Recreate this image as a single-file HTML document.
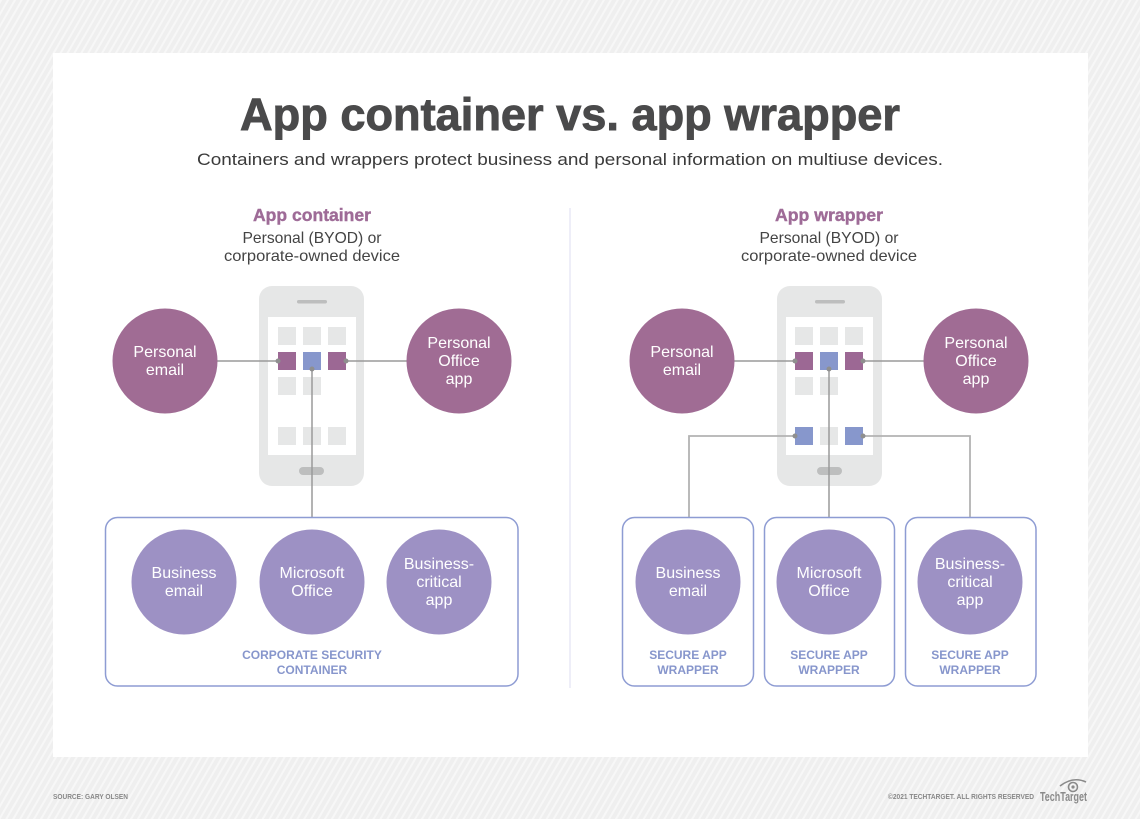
<!DOCTYPE html>
<html><head><meta charset="utf-8">
<style>
html,body{margin:0;padding:0;background:#f0f0f0;}
svg{display:block;}
text{font-family:"Liberation Sans",Arial,sans-serif;}
</style></head>
<body>
<svg width="1140" height="819" viewBox="0 0 1140 819" xmlns="http://www.w3.org/2000/svg">
<defs>
<pattern id="bg" width="6" height="6" patternUnits="userSpaceOnUse" patternTransform="rotate(30)">
<rect width="6" height="6" fill="#efefef"/>
<line x1="1" y1="0" x2="1" y2="6" stroke="#f7f7f7" stroke-width="2"/>
</pattern>
</defs>
<rect width="1140" height="819" fill="url(#bg)"/>
<rect x="53" y="53" width="1035" height="704" fill="#ffffff"/>

<!-- Title -->
<text x="570" y="130" text-anchor="middle" font-size="45" font-weight="bold" fill="#4a4a4b" stroke="#4a4a4b" stroke-width="0.9" textLength="660" lengthAdjust="spacingAndGlyphs">App container vs. app wrapper</text>
<text x="570" y="165" text-anchor="middle" font-size="17" fill="#3a3a3a" textLength="746" lengthAdjust="spacingAndGlyphs">Containers and wrappers protect business and personal information on multiuse devices.</text>

<!-- divider -->
<line x1="570" y1="208" x2="570" y2="688" stroke="#e2e2f2" stroke-width="1.2"/>

<!-- LEFT headings -->
<text x="312" y="221" text-anchor="middle" font-size="17.5" font-weight="bold" fill="#9e6b97" stroke="#9e6b97" stroke-width="0.4" textLength="118" lengthAdjust="spacingAndGlyphs">App container</text>
<text x="312" y="243" text-anchor="middle" font-size="16" fill="#444" textLength="139" lengthAdjust="spacingAndGlyphs">Personal (BYOD) or</text>
<text x="312" y="261" text-anchor="middle" font-size="16" fill="#444" textLength="176" lengthAdjust="spacingAndGlyphs">corporate-owned device</text>

<!-- RIGHT headings -->
<text x="829" y="221" text-anchor="middle" font-size="17.5" font-weight="bold" fill="#9e6b97" stroke="#9e6b97" stroke-width="0.4" textLength="108" lengthAdjust="spacingAndGlyphs">App wrapper</text>
<text x="829" y="243" text-anchor="middle" font-size="16" fill="#444" textLength="139" lengthAdjust="spacingAndGlyphs">Personal (BYOD) or</text>
<text x="829" y="261" text-anchor="middle" font-size="16" fill="#444" textLength="176" lengthAdjust="spacingAndGlyphs">corporate-owned device</text>

<!-- LEFT phone -->
<rect x="259" y="286" width="105" height="200" rx="13" fill="#e6e7e7"/>
<rect x="297" y="300" width="30" height="3.5" rx="1.7" fill="#bdbebe"/>
<rect x="268" y="317" width="88" height="138" fill="#ffffff"/>
<g fill="#e6e7e7">
<rect x="278" y="327" width="18" height="18"/><rect x="303" y="327" width="18" height="18"/><rect x="328" y="327" width="18" height="18"/>
<rect x="278" y="377" width="18" height="18"/><rect x="303" y="377" width="18" height="18"/>
<rect x="278" y="427" width="18" height="18"/><rect x="303" y="427" width="18" height="18"/><rect x="328" y="427" width="18" height="18"/>
</g>
<rect x="278" y="352" width="18" height="18" fill="#9c6894"/>
<rect x="303" y="352" width="18" height="18" fill="#8797cc"/>
<rect x="328" y="352" width="18" height="18" fill="#9c6894"/>
<rect x="299" y="467" width="25" height="8" rx="4" fill="#bdbebe"/>

<!-- LEFT connectors -->
<g stroke="#9a9a9a" stroke-width="1.5" fill="none">
<line x1="217" y1="361" x2="278" y2="361"/>
<line x1="346" y1="361" x2="407" y2="361"/>
<line x1="312" y1="369" x2="312" y2="518"/>
</g>
<g fill="#8f8f8f">
<circle cx="278" cy="361" r="2.5"/><circle cx="346" cy="361" r="2.5"/><circle cx="312" cy="369" r="2.5"/>
</g>

<!-- LEFT personal circles -->
<circle cx="165" cy="361" r="52.5" fill="#a06c94"/>
<text x="165" y="357" text-anchor="middle" font-size="16" fill="#fff">Personal</text>
<text x="165" y="375" text-anchor="middle" font-size="16" fill="#fff">email</text>
<circle cx="459" cy="361" r="52.5" fill="#a06c94"/>
<text x="459" y="348" text-anchor="middle" font-size="16" fill="#fff">Personal</text>
<text x="459" y="366" text-anchor="middle" font-size="16" fill="#fff">Office</text>
<text x="459" y="384" text-anchor="middle" font-size="16" fill="#fff">app</text>

<!-- LEFT container box -->
<rect x="105.5" y="517.5" width="412.5" height="168.5" rx="12" fill="none" stroke="#8e9cd3" stroke-width="1.5"/>
<circle cx="184" cy="582" r="52.5" fill="#9d91c4"/>
<text x="184" y="578" text-anchor="middle" font-size="16" fill="#fff">Business</text>
<text x="184" y="596" text-anchor="middle" font-size="16" fill="#fff">email</text>
<circle cx="312" cy="582" r="52.5" fill="#9d91c4"/>
<text x="312" y="578" text-anchor="middle" font-size="16" fill="#fff">Microsoft</text>
<text x="312" y="596" text-anchor="middle" font-size="16" fill="#fff">Office</text>
<circle cx="439" cy="582" r="52.5" fill="#9d91c4"/>
<text x="439" y="569" text-anchor="middle" font-size="16" fill="#fff">Business-</text>
<text x="439" y="587" text-anchor="middle" font-size="16" fill="#fff">critical</text>
<text x="439" y="605" text-anchor="middle" font-size="16" fill="#fff">app</text>
<text x="312" y="659" text-anchor="middle" font-size="12" font-weight="bold" fill="#8796cc">CORPORATE SECURITY</text>
<text x="312" y="674" text-anchor="middle" font-size="12" font-weight="bold" fill="#8796cc">CONTAINER</text>

<!-- RIGHT phone -->
<rect x="777" y="286" width="105" height="200" rx="13" fill="#e6e7e7"/>
<rect x="815" y="300" width="30" height="3.5" rx="1.7" fill="#bdbebe"/>
<rect x="786" y="317" width="87" height="138" fill="#ffffff"/>
<g fill="#e6e7e7">
<rect x="795" y="327" width="18" height="18"/><rect x="820" y="327" width="18" height="18"/><rect x="845" y="327" width="18" height="18"/>
<rect x="795" y="377" width="18" height="18"/><rect x="820" y="377" width="18" height="18"/>
<rect x="820" y="427" width="18" height="18"/>
</g>
<rect x="795" y="352" width="18" height="18" fill="#9c6894"/>
<rect x="820" y="352" width="18" height="18" fill="#8797cc"/>
<rect x="845" y="352" width="18" height="18" fill="#9c6894"/>
<rect x="795" y="427" width="18" height="18" fill="#8797cc"/>
<rect x="845" y="427" width="18" height="18" fill="#8797cc"/>
<rect x="817" y="467" width="25" height="8" rx="4" fill="#bdbebe"/>

<!-- RIGHT connectors -->
<g stroke="#9a9a9a" stroke-width="1.5" fill="none">
<line x1="734" y1="361" x2="795" y2="361"/>
<line x1="863" y1="361" x2="924" y2="361"/>
<line x1="829" y1="369" x2="829" y2="518"/>
</g>
<g stroke="#b3b3b3" stroke-width="1.8" fill="none">
<polyline points="795,436 689,436 689,518"/>
<polyline points="863,436 970,436 970,518"/>
</g>
<g fill="#8f8f8f">
<circle cx="795" cy="361" r="2.5"/><circle cx="863" cy="361" r="2.5"/><circle cx="829" cy="369" r="2.5"/>
<circle cx="795" cy="436" r="2.5"/><circle cx="863" cy="436" r="2.5"/>
</g>

<!-- RIGHT personal circles -->
<circle cx="682" cy="361" r="52.5" fill="#a06c94"/>
<text x="682" y="357" text-anchor="middle" font-size="16" fill="#fff">Personal</text>
<text x="682" y="375" text-anchor="middle" font-size="16" fill="#fff">email</text>
<circle cx="976" cy="361" r="52.5" fill="#a06c94"/>
<text x="976" y="348" text-anchor="middle" font-size="16" fill="#fff">Personal</text>
<text x="976" y="366" text-anchor="middle" font-size="16" fill="#fff">Office</text>
<text x="976" y="384" text-anchor="middle" font-size="16" fill="#fff">app</text>

<!-- RIGHT wrapper boxes -->
<g fill="none" stroke="#8e9cd3" stroke-width="1.5">
<rect x="622.5" y="517.5" width="131" height="168.5" rx="12"/>
<rect x="764.5" y="517.5" width="130" height="168.5" rx="12"/>
<rect x="905.5" y="517.5" width="130.5" height="168.5" rx="12"/>
</g>
<circle cx="688" cy="582" r="52.5" fill="#9d91c4"/>
<text x="688" y="578" text-anchor="middle" font-size="16" fill="#fff">Business</text>
<text x="688" y="596" text-anchor="middle" font-size="16" fill="#fff">email</text>
<circle cx="829" cy="582" r="52.5" fill="#9d91c4"/>
<text x="829" y="578" text-anchor="middle" font-size="16" fill="#fff">Microsoft</text>
<text x="829" y="596" text-anchor="middle" font-size="16" fill="#fff">Office</text>
<circle cx="970" cy="582" r="52.5" fill="#9d91c4"/>
<text x="970" y="569" text-anchor="middle" font-size="16" fill="#fff">Business-</text>
<text x="970" y="587" text-anchor="middle" font-size="16" fill="#fff">critical</text>
<text x="970" y="605" text-anchor="middle" font-size="16" fill="#fff">app</text>
<g font-size="12" font-weight="bold" fill="#8796cc" text-anchor="middle">
<text x="688" y="659">SECURE APP</text><text x="688" y="674">WRAPPER</text>
<text x="829" y="659">SECURE APP</text><text x="829" y="674">WRAPPER</text>
<text x="970" y="659">SECURE APP</text><text x="970" y="674">WRAPPER</text>
</g>

<!-- Footer -->
<text x="53" y="799" font-size="7" font-weight="bold" fill="#888" textLength="75" lengthAdjust="spacingAndGlyphs">SOURCE: GARY OLSEN</text>
<text x="1034" y="799" text-anchor="end" font-size="7" font-weight="bold" fill="#888" textLength="146" lengthAdjust="spacingAndGlyphs">©2021 TECHTARGET. ALL RIGHTS RESERVED</text>
<text x="1040" y="801" font-size="13" font-weight="bold" fill="#8a8a8a" textLength="47" lengthAdjust="spacingAndGlyphs">TechTarget</text>
<path d="M1060,786 Q1073,776 1086,782" fill="none" stroke="#8a8a8a" stroke-width="1.6"/>
<circle cx="1073" cy="787" r="4.5" fill="none" stroke="#8a8a8a" stroke-width="1.6"/>
<circle cx="1073" cy="787" r="1.6" fill="#8a8a8a"/>
</svg>
</body></html>
